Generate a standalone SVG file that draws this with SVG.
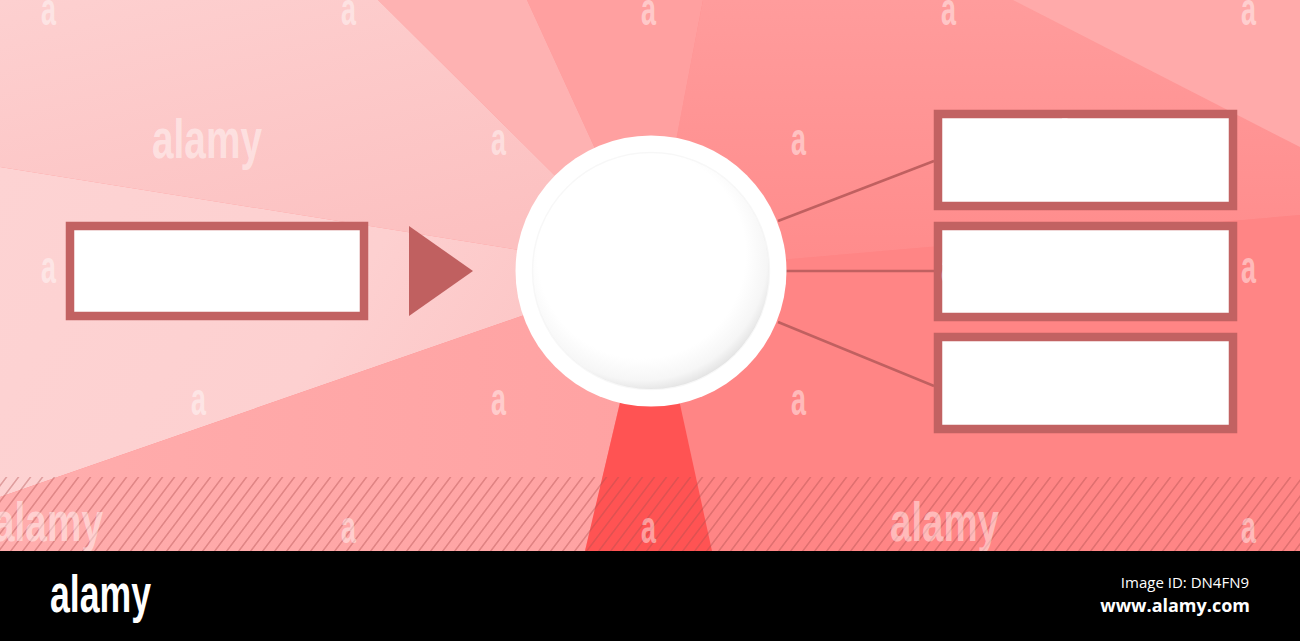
<svg xmlns="http://www.w3.org/2000/svg" width="1300" height="641" viewBox="0 0 1300 641">
<defs>
<style>
.box{fill:#ffffff;stroke:#c26262;stroke-width:8.5}
.conn{stroke:#c06060;stroke-width:2.5;fill:none}
.wm{font-family:"Liberation Sans",Arial,sans-serif;font-weight:bold;fill:#ffffff;fill-opacity:0.45}
.wa{font-size:46px}
.wb{font-size:56px}
</style>
<linearGradient id="gTL" x1="0" y1="0" x2="0.6" y2="1">
<stop offset="0" stop-color="#fdd0d0"/>
<stop offset="1" stop-color="#fcc0c0"/>
</linearGradient>
<linearGradient id="gL" x1="0" y1="0" x2="1" y2="0.3">
<stop offset="0" stop-color="#fdd3d3"/>
<stop offset="0.6" stop-color="#fdd0d0"/>
<stop offset="1" stop-color="#fcc3c3"/>
</linearGradient>
<linearGradient id="gR" x1="0" y1="0" x2="0" y2="1">
<stop offset="0" stop-color="#ff9c9c"/>
<stop offset="1" stop-color="#ff8b8b"/>
</linearGradient>
<linearGradient id="gLL" x1="0" y1="0" x2="1" y2="0">
<stop offset="0" stop-color="#ffadad"/>
<stop offset="1" stop-color="#ffa2a2"/>
</linearGradient>
<radialGradient id="gDisk" cx="0.46" cy="0.43" r="0.58">
<stop offset="0.76" stop-color="#ffffff"/>
<stop offset="0.92" stop-color="#f6f6f6"/>
<stop offset="1" stop-color="#e4e4e4"/>
</radialGradient>
<pattern id="hatch" patternUnits="userSpaceOnUse" width="12" height="20" patternTransform="skewX(-37)">
<line x1="6" y1="0" x2="6" y2="20" stroke="#b04c4c" stroke-opacity="0.85" stroke-width="0.9"/>
</pattern>
</defs>

<g id="background">
<rect x="0" y="0" width="1300" height="551" fill="#ff8888"/>
<polygon points="651,271 703,0 1300,0 1300,215" fill="url(#gR)"/>
<polygon points="1013,0 1300,0 1300,147" fill="#ffaaaa"/>
<polygon points="651,271 1300,215 1300,551 712,551" fill="#ff8585"/>
<polygon points="651,271 527,0 703,0" fill="#ffa0a0"/>
<polygon points="651,271 378,0 527,0" fill="#feb2b2"/>
<polygon points="651,271 0,167 0,0 378,0" fill="url(#gTL)"/>
<polygon points="651,271 0,497 0,167" fill="url(#gL)"/>
<polygon points="651,271 585,551 0,551 0,497" fill="url(#gLL)"/>
<polygon points="651,271 712,551 585,551" fill="#ff5353"/>
</g>

<g id="hatch-band">
<rect x="0" y="477" width="1300" height="74" fill="url(#hatch)"/>
</g>

<g id="connectors">
<polygon points="409,226 473,271 409,316" fill="#c06060"/>
<line class="conn" x1="778" y1="221" x2="934" y2="161"/>
<line class="conn" x1="786" y1="271" x2="934" y2="271"/>
<line class="conn" x1="778" y1="322" x2="934" y2="386"/>
</g>

<g id="node-input">
<rect class="box" x="70" y="226" width="294" height="90"/>
</g>

<g id="node-hub">
<circle cx="651" cy="271" r="135.5" fill="#ffffff"/>
<circle cx="651" cy="271" r="118" fill="url(#gDisk)"/>
<circle cx="651" cy="271" r="118.5" fill="none" stroke="#000" stroke-opacity="0.03" stroke-width="1.5"/>
</g>

<g id="node-out-1">
<rect class="box" x="938" y="114" width="295" height="92"/>
</g>
<g id="node-out-2">
<rect class="box" x="938" y="226" width="295" height="91"/>
</g>
<g id="node-out-3">
<rect class="box" x="938" y="337" width="295" height="92"/>
</g>

<g id="watermarks" class="wm">
<text class="wa" x="41" y="25" textLength="15" lengthAdjust="spacingAndGlyphs">a</text>
<text class="wa" x="341" y="25" textLength="15" lengthAdjust="spacingAndGlyphs">a</text>
<text class="wa" x="641" y="25" textLength="15" lengthAdjust="spacingAndGlyphs">a</text>
<text class="wa" x="941" y="25" textLength="15" lengthAdjust="spacingAndGlyphs">a</text>
<text class="wa" x="1241" y="25" textLength="15" lengthAdjust="spacingAndGlyphs">a</text>
<text class="wb" x="152" y="158" textLength="110" lengthAdjust="spacingAndGlyphs">alamy</text>
<text class="wa" x="491" y="155" textLength="15" lengthAdjust="spacingAndGlyphs">a</text>
<text class="wa" x="791" y="155" textLength="15" lengthAdjust="spacingAndGlyphs">a</text>
<text class="wb" x="1038" y="158" textLength="110" lengthAdjust="spacingAndGlyphs">alamy</text>
<text class="wa" x="41" y="283" textLength="15" lengthAdjust="spacingAndGlyphs">a</text>
<text class="wa" x="341" y="283" textLength="15" lengthAdjust="spacingAndGlyphs">a</text>
<text class="wa" x="641" y="283" textLength="15" lengthAdjust="spacingAndGlyphs">a</text>
<text class="wa" x="941" y="283" textLength="15" lengthAdjust="spacingAndGlyphs">a</text>
<text class="wa" x="1241" y="283" textLength="15" lengthAdjust="spacingAndGlyphs">a</text>
<text class="wa" x="191" y="415" textLength="15" lengthAdjust="spacingAndGlyphs">a</text>
<text class="wa" x="491" y="415" textLength="15" lengthAdjust="spacingAndGlyphs">a</text>
<text class="wa" x="791" y="415" textLength="15" lengthAdjust="spacingAndGlyphs">a</text>
<text class="wa" x="1091" y="415" textLength="15" lengthAdjust="spacingAndGlyphs">a</text>
<text class="wb" x="-7" y="541" textLength="110" lengthAdjust="spacingAndGlyphs">alamy</text>
<text class="wa" x="341" y="543" textLength="15" lengthAdjust="spacingAndGlyphs">a</text>
<text class="wa" x="641" y="543" textLength="15" lengthAdjust="spacingAndGlyphs">a</text>
<text class="wb" x="890" y="541" textLength="109" lengthAdjust="spacingAndGlyphs">alamy</text>
<text class="wa" x="1241" y="543" textLength="15" lengthAdjust="spacingAndGlyphs">a</text>
</g>

<g id="footer">
<rect x="0" y="551" width="1300" height="90" fill="#000000"/>
<text x="50" y="612" font-family="Liberation Sans, Arial, sans-serif" font-weight="bold" font-size="51" fill="#ffffff" textLength="101" lengthAdjust="spacingAndGlyphs">alamy</text>
<text x="1249" y="588" text-anchor="end" font-family="Open Sans, Noto Sans, sans-serif" font-size="15" fill="#ffffff">Image ID: DN4FN9</text>
<text x="1250" y="612" text-anchor="end" font-family="Open Sans, Noto Sans, sans-serif" font-weight="bold" font-size="18" fill="#ffffff">www.alamy.com</text>
</g>
</svg>
